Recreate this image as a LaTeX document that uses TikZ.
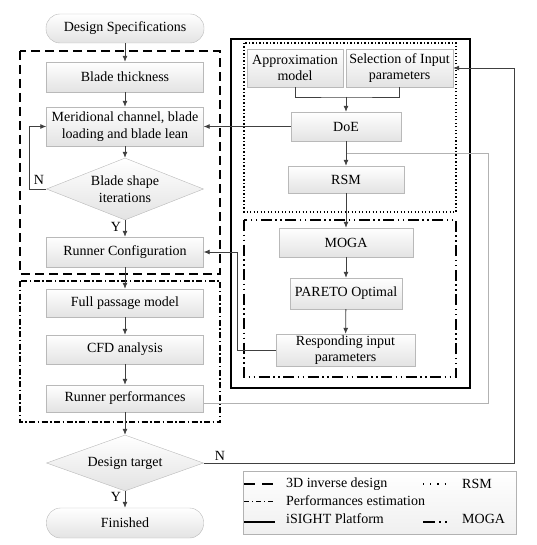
\documentclass[tikz,border=0pt]{standalone}
\usepackage{fontspec}
\setmainfont{Liberation Serif}
\usetikzlibrary{shapes.geometric,arrows.meta}
\tikzset{
  blk/.style={draw=gray!55, top color=white, bottom color=gray!22, minimum width=157pt, minimum height=30pt, align=center, inner sep=1pt},
  term/.style={blk, rounded corners=14pt},
  dec/.style={blk, diamond, aspect=2.6, inner sep=0pt},
  conn/.style={draw=black!75, line width=0.8pt},
  arr/.style={conn, -{Latex[length=6pt,width=5pt]}},
  back/.style={draw=gray!60, line width=0.7pt},
  grpinv/.style={line width=1.6pt, dash pattern=on 9pt off 5pt},
  grpperf/.style={line width=1.3pt, dash pattern=on 6pt off 2.5pt on 1.5pt off 2.5pt},
  grpsight/.style={line width=2.6pt},
  grprsm/.style={line width=1.2pt, dash pattern=on 1.2pt off 2.3pt},
  grpmoga/.style={line width=1.4pt, dash pattern=on 11pt off 3.5pt on 1.5pt off 3.5pt on 1.5pt off 3.5pt},
}
\begin{document}
\begin{tikzpicture}[x=1pt, y=-1pt, font=\fontsize{14pt}{16.5pt}\selectfont]
  \useasboundingbox (0,0) rectangle (536,545);

  % group frames
  \draw[grpinv] (20,51) rectangle (220,274);
  \draw[grpperf] (20,281) rectangle (220,422);
  \draw[grpsight] (231,39) rectangle (470,388);
  \draw[grprsm] (244,43) rectangle (456,212);
  \draw[grpmoga] (244,220) rectangle (456,377);

  % main flow
  \node[term, minimum width=158pt, minimum height=29pt] (spec) at (125,28.5) {Design Specifications};
  \node[blk] (thick) at (125,77) {Blade thickness};
  \node[blk, minimum height=39pt] (merid) at (125,126.5) {Meridional channel, blade\\loading and blade lean};
  \node[dec, minimum width=157pt, minimum height=62pt] (iter) at (125,189) {Blade shape\\iterations};
  \node[blk] (runner) at (125,252) {Runner Configuration};
  \node[blk, minimum height=28pt] (full) at (125,303) {Full passage model};
  \node[blk, minimum height=29pt] (cfd) at (125,349.5) {CFD analysis};
  \node[blk, minimum height=27pt] (perf) at (125,398.5) {Runner performances};
  \node[dec, minimum width=157pt, minimum height=56pt] (target) at (125,463) {Design target};
  \node[term, minimum height=30pt] (fin) at (125,523) {Finished};

  % optimisation side
  \node[blk, minimum width=96pt, minimum height=38pt] (approx) at (295,68) {Approximation\\model};
  \node[blk, minimum width=107pt, minimum height=38pt] (sel) at (399.5,68) {Selection of Input\\parameters};
  \node[blk, minimum width=110pt, minimum height=29pt] (doe) at (346,126.5) {DoE};
  \node[blk, minimum width=116pt, minimum height=27pt] (rsm) at (346,179.5) {RSM};
  \node[blk, minimum width=134pt, minimum height=29pt] (moga) at (346,242.5) {MOGA};
  \node[blk, minimum width=112pt, minimum height=31pt] (pareto) at (346,293.5) {PARETO Optimal};
  \node[blk, minimum width=139pt, minimum height=32pt] (resp) at (345.5,350) {Responding input\\parameters};

  \coordinate (mrg) at (346,97);
  \coordinate (fb) at (346,153);

  \draw[back] ([yshift=-4.5pt]perf.east) -- ++(285,0) |- (fb);

  \draw[arr] (spec) -- (thick);
  \draw[arr] (thick) -- (merid);
  \draw[arr] (merid) -- (iter);
  \draw[arr] (iter) -- (runner);
  \draw[arr] (iter.west) -- ++(-17,0) |- (merid.west);
  \draw[arr] (runner) -- (full);
  \draw[arr] (full) -- (cfd);
  \draw[arr] (cfd) -- (perf);
  \draw[arr] (perf) -- (target);
  \draw[arr] (target) -- (fin);
  \draw[arr] (target.east) -- ++(311,0) |- (sel.east);

  \draw[conn] (approx.south) |- (mrg) -| (sel.south);
  \draw[arr] (mrg) -- (doe);
  \draw[arr] (doe.west) -- (merid.east);
  \draw[arr] (doe) -- (rsm);
  \draw[arr] (rsm) -- (moga);
  \draw[arr] (moga) -- (pareto);
  \draw[arr] (pareto) -- (resp);
  \draw[arr] (resp.west) -- ++(-38.5,0) |- (runner.east);

  \node at (39,180) {N};
  \node at (116,227) {Y};
  \node at (220,456) {N};
  \node at (116,497) {Y};

  % legend
  \draw[draw=gray!60, top color=white, bottom color=gray!12] (243,471) rectangle (516,534);
  \draw[grpinv, dash pattern=on 11pt off 7pt] (244,484) -- (275,484);
  \draw[grpperf, line width=1pt, dash pattern=on 5pt off 3pt on 1.2pt off 3pt] (244,501) -- (275,501);
  \draw[grpsight] (244,522) -- (275,522);
  \draw[grprsm, dash pattern=on 1.2pt off 6pt] (423,484) -- (449,484);
  \draw[grpmoga, dash pattern=on 12pt off 4pt on 1.5pt off 4.5pt on 1.5pt off 10pt] (423,522) -- (449,522);
  \node[anchor=west, inner sep=0pt] at (286,484) {3D inverse design};
  \node[anchor=west, inner sep=0pt] at (286,501) {Performances estimation};
  \node[anchor=west, inner sep=0pt] at (286,519) {iSIGHT Platform};
  \node[anchor=west, inner sep=0pt] at (462,484) {RSM};
  \node[anchor=west, inner sep=0pt] at (462,519) {MOGA};
\end{tikzpicture}
\end{document}
